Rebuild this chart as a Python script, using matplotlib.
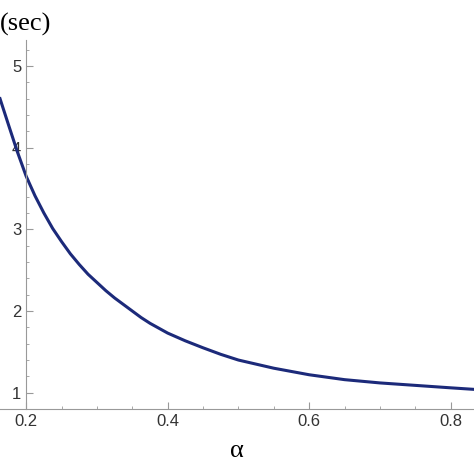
import numpy as np
import matplotlib.pyplot as plt
from matplotlib.ticker import MultipleLocator

# values
alpha = [0.163, 0.175, 0.1875, 0.2, 0.2125, 0.225, 0.2375, 0.25, 0.2625, 0.275,
         0.2875, 0.3, 0.3125, 0.325, 0.3375, 0.35, 0.3625, 0.375, 0.3875, 0.4,
         0.425, 0.45, 0.475, 0.5, 0.525, 0.55, 0.575, 0.6, 0.625, 0.65,
         0.675, 0.7, 0.725, 0.75, 0.775, 0.8, 0.835]
t_sec = [4.6, 4.28, 3.95, 3.65, 3.41, 3.2, 3.01, 2.85, 2.70, 2.57,
         2.45, 2.35, 2.25, 2.16, 2.08, 2.0, 1.92, 1.85, 1.79, 1.73,
         1.635, 1.55, 1.47, 1.40, 1.35, 1.30, 1.26, 1.22, 1.19, 1.16,
         1.14, 1.12, 1.105, 1.09, 1.075, 1.06, 1.04]
x_ticks = [0.2, 0.4, 0.6, 0.8]
y_ticks = [1, 2, 3, 4, 5]

fig = plt.figure(figsize=(4.74, 4.74), dpi=100)
ax = fig.add_axes([0, 0.137, 1, 0.779])
ax.plot(alpha, t_sec, color="#1c2a7a", lw=2.2)

ax.set_xlim(0.163, 0.833)
ax.set_ylim(0.8, 5.32)
ax.spines["left"].set_position(("data", 0.2))
for s in ("top", "right"):
    ax.spines[s].set_visible(False)
for s in ("left", "bottom"):
    ax.spines[s].set_color("#999999")

ax.set_xticks(x_ticks)
ax.set_xticklabels(["0.2", "0.4", "0.6", "0.8"])
ax.set_yticks(y_ticks)
ax.xaxis.set_minor_locator(MultipleLocator(0.05))
ax.yaxis.set_minor_locator(MultipleLocator(0.2))
ax.tick_params(which="both", colors="#999999", labelcolor="#333333",
               labelsize=12, direction="in")
ax.tick_params(which="major", length=5)
ax.tick_params(which="minor", length=2.5)
for lab in ax.get_xticklabels() + ax.get_yticklabels():
    lab.set_family("Liberation Sans")

fig.text(0.5, 0.035, "α", family="Liberation Serif", fontsize=19, ha="center")
fig.text(0.0, 0.935, "(sec)", family="Liberation Serif", fontsize=19, ha="left")

fig.savefig("out.png", dpi=100)
